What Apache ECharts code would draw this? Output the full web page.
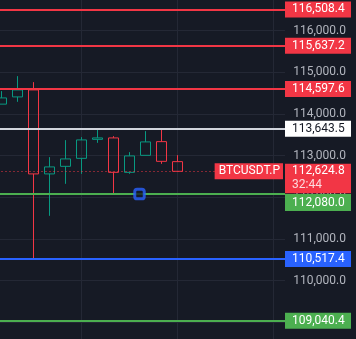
<!DOCTYPE html>
<html><head><meta charset="utf-8">
<script src="https://cdn.jsdelivr.net/npm/echarts@6/dist/echarts.min.js"></script>
<style>html,body{margin:0;padding:0;background:#161a25;}#c{width:356px;height:339px;}</style>
</head><body><div id="c"></div>
<script>
// candle values (oldest -> newest)
const openP  = [114237, 114410, 114578, 112562, 112744, 112936, 113392, 113426, 112600, 113008, 113337, 112857];
const closeP = [114386, 114578, 112562, 112730, 112922, 113378, 113426, 112600, 112994, 113330, 112864, 112624.8];
const lowP   = [114237, 114292, 110517, 111556, 112324, 112564, 113308, 112090, 112564, 113008, 112804, 112624.8];
const highP  = [114549, 114909, 114765, 112965, 113373, 113445, 113637, 113469, 113085, 113589, 113620, 113013];

// horizontal price levels
const levelValues = [116508.4, 115637.2, 114597.6, 113643.5, 112080.0, 110517.4, 109040.4];
const levelKinds  = ['red', 'red', 'red', 'white', 'green', 'blue', 'green'];

// price axis ticks
const yMin = 108000, yMax = 117000, yStep = 1000;

// symbol info
const symbolName = 'BTCUSDT.P';
const countdown = '32:44';
const lastPrice = closeP[closeP.length - 1];

// marker (position index in candle units, price)
const markerIndex = 8.625;
const markerPrice = 112080.0;

const BG = '#161a25';
const kindStyle = {
  red:   {line: '#f23645', box: '#f23645', text: '#ffffff'},
  white: {line: '#d1d4dc', box: '#ffffff', text: '#131722'},
  green: {line: '#4caf50', box: '#4caf50', text: '#ffffff'},
  blue:  {line: '#2962ff', box: '#2962ff', text: '#ffffff'}
};
const fmt = v => v.toLocaleString('en-US', {minimumFractionDigits: 1, maximumFractionDigits: 1});
const FONT = 'Roboto, "Noto Sans", sans-serif';

const candleData = openP.map((o, i) => [i + 1, o, closeP[i], lowP[i], highP[i]]);

const labelBase = {
  show: true, position: 'end', distance: 0, fontSize: 12, lineHeight: 12,
  fontFamily: FONT, padding: [2, 5, 2, 7], width: 54, align: 'left'
};

const lineData = levelValues.map((v, i) => {
  const s = kindStyle[levelKinds[i]];
  const vAlign = (v === 112080.0) ? 'top' : 'middle';
  return {
    yAxis: v,
    lineStyle: {color: s.line, width: 2, type: 'solid'},
    label: Object.assign({}, labelBase, {
      formatter: fmt(v), backgroundColor: s.box, color: s.text, verticalAlign: vAlign,
      padding: vAlign === 'top' ? [3, 5, 2, 7] : [2, 5, 2, 7]
    })
  };
});

// current price line (dotted) + labels
lineData.push({
  yAxis: lastPrice,
  lineStyle: {color: '#f23645', width: 1, type: [1, 3]},
  label: {show: true, position: 'insideEnd', distance: 2, fontSize: 12, lineHeight: 12,
    fontFamily: FONT, padding: [2, 3, 2, 4], formatter: symbolName,
    backgroundColor: '#f23645', color: '#ffffff', verticalAlign: 'middle'}
});
lineData.push({
  yAxis: lastPrice,
  lineStyle: {color: 'rgba(0,0,0,0)', width: 0},
  label: Object.assign({}, labelBase, {formatter: countdown, backgroundColor: '#f23645',
    color: 'rgba(255,255,255,0.82)', verticalAlign: 'top', padding: [8, 5, 2, 7]})
});
lineData.push({
  yAxis: lastPrice,
  lineStyle: {color: 'rgba(0,0,0,0)', width: 0},
  label: Object.assign({}, labelBase, {formatter: fmt(lastPrice), backgroundColor: '#f23645',
    color: '#ffffff', verticalAlign: 'middle', padding: [2, 5, 1, 7]})
});

const chart = echarts.init(document.getElementById('c'), null, {renderer: 'canvas'});
chart.setOption({
  backgroundColor: BG,
  animation: false,
  grid: {left: -14.5, right: 71, top: -11, bottom: -25, containLabel: false, outerBoundsMode: 'none'},
  xAxis: {
    type: 'value', min: 0, max: 18.71875, interval: 6,
    axisLine: {show: false}, axisTick: {show: false}, axisLabel: {show: false},
    splitLine: {show: true, showMinLine: false, showMaxLine: false, lineStyle: {color: '#242835', width: 1}}
  },
  yAxis: {
    type: 'value', position: 'right', min: yMin, max: yMax, interval: yStep,
    axisLine: {show: false}, axisTick: {show: false},
    axisLabel: {show: true, align: 'right', margin: 61, color: '#b2b5be', fontSize: 12,
      fontFamily: FONT, formatter: v => fmt(v)},
    splitLine: {show: true, showMinLine: false, showMaxLine: false, lineStyle: {color: '#242835', width: 1}}
  },
  series: [
    {
      type: 'candlestick',
      data: candleData,
      encode: {x: 0, y: [1, 2, 3, 4]},
      barWidth: 10,
      itemStyle: {color: 'rgba(0,0,0,0)', color0: 'rgba(0,0,0,0)',
        borderColor: '#089981', borderColor0: '#f23645', borderWidth: 1},
      markLine: {silent: true, symbol: ['none', 'none'], animation: false, data: lineData}
    },
    {
      type: 'scatter',
      data: [[markerIndex + 1, markerPrice]],
      symbol: 'roundRect', symbolSize: 9.5, z: 10,
      itemStyle: {color: BG, borderColor: '#2962ff', borderWidth: 3}
    }
  ]
});
</script></body></html>
